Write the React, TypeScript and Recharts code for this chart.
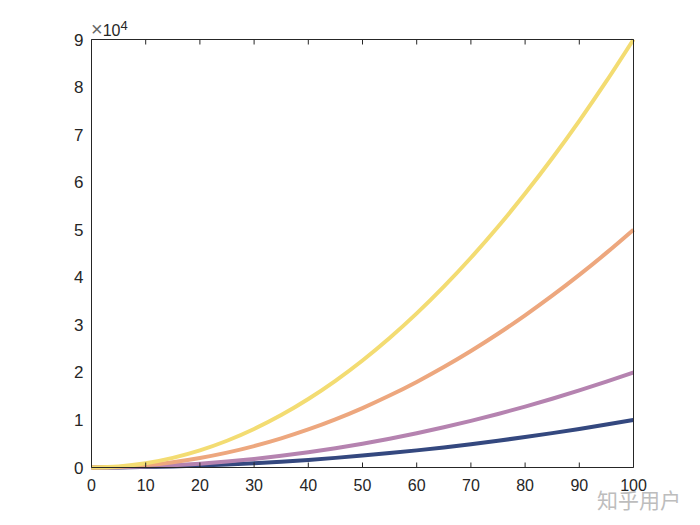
import { LineChart, Line, XAxis, YAxis } from 'recharts';

const xValues = [0, 5, 10, 15, 20, 25, 30, 35, 40, 45, 50, 55, 60, 65, 70, 75, 80, 85, 90, 95, 100];
const navyValues = [0, 25, 100, 225, 400, 625, 900, 1225, 1600, 2025, 2500, 3025, 3600, 4225, 4900, 5625, 6400, 7225, 8100, 9025, 10000];
const purpleValues = [0, 50, 200, 450, 800, 1250, 1800, 2450, 3200, 4050, 5000, 6050, 7200, 8450, 9800, 11250, 12800, 14450, 16200, 18050, 20000];
const orangeValues = [0, 125, 500, 1125, 2000, 3125, 4500, 6125, 8000, 10125, 12500, 15125, 18000, 21125, 24500, 28125, 32000, 36125, 40500, 45125, 50000];
const yellowValues = [0, 225, 900, 2025, 3600, 5625, 8100, 11025, 14400, 18225, 22500, 27225, 32400, 38025, 44100, 50625, 57600, 65025, 72900, 81225, 90000];

const xTicks = [0, 10, 20, 30, 40, 50, 60, 70, 80, 90, 100];
const yTicks = [0, 10000, 20000, 30000, 40000, 50000, 60000, 70000, 80000, 90000];

const data = xValues.map((x, i) => ({
  x,
  navy: navyValues[i],
  purple: purpleValues[i],
  orange: orangeValues[i],
  yellow: yellowValues[i],
}));

const INK = '#262626';
const SANS = '"Liberation Sans", Arial, sans-serif';
const xTickFont = { fontSize: 16, fill: INK, fontFamily: SANS };
const yTickFont = { fontSize: 17, fill: INK, fontFamily: SANS };
const axisLine = { stroke: INK, strokeWidth: 1 };
const noLabel = () => <g />;

export default function App() {
  return (
    <div style={{ position: 'absolute', left: 0, top: 0, width: 700, height: 525, background: '#fff' }}>
      <LineChart
        width={700}
        height={525}
        data={data}
        margin={{ left: 41.5, right: 66.5, top: 39.5, bottom: 27.5 }}
      >
        {/* labelled axes, ticks come from the mirrored ones so they point inward */}
        <XAxis
          xAxisId="bottom"
          dataKey="x"
          type="number"
          domain={[0, 100]}
          ticks={xTicks}
          height={30}
          interval={0}
          tick={xTickFont}
          tickLine={false}
          tickMargin={6}
          axisLine={axisLine}
        />
        <XAxis xAxisId="bottomTicks" dataKey="x" type="number" domain={[0, 100]} ticks={xTicks} interval={0} mirror tick={noLabel} tickLine={axisLine} tickSize={5} axisLine={false} />
        <XAxis xAxisId="top" orientation="top" dataKey="x" type="number" domain={[0, 100]} ticks={xTicks} interval={0} mirror tick={noLabel} tickLine={axisLine} tickSize={5} axisLine={axisLine} />
        <YAxis
          yAxisId="left"
          type="number"
          domain={[0, 90000]}
          ticks={yTicks}
          width={50}
          interval={0}
          tick={yTickFont}
          tickLine={false}
          tickMargin={2}
          tickFormatter={(v: number) => String(v / 10000)}
          axisLine={axisLine}
        />
        <YAxis yAxisId="leftTicks" type="number" domain={[0, 90000]} ticks={yTicks} interval={0} mirror tick={noLabel} tickLine={axisLine} tickSize={5} axisLine={false} />
        <YAxis yAxisId="right" orientation="right" type="number" domain={[0, 90000]} ticks={yTicks} interval={0} mirror tick={noLabel} tickLine={axisLine} tickSize={5} axisLine={axisLine} />
        <Line xAxisId="bottom" yAxisId="left" dataKey="navy" type="monotone" stroke="#34487F" strokeWidth={4} dot={false} isAnimationActive={false} />
        <Line xAxisId="bottom" yAxisId="left" dataKey="purple" type="monotone" stroke="#B583B0" strokeWidth={4} dot={false} isAnimationActive={false} />
        <Line xAxisId="bottom" yAxisId="left" dataKey="orange" type="monotone" stroke="#EDA77E" strokeWidth={4} dot={false} isAnimationActive={false} />
        <Line xAxisId="bottom" yAxisId="left" dataKey="yellow" type="monotone" stroke="#F3DC72" strokeWidth={4} dot={false} isAnimationActive={false} />
      </LineChart>
      <div style={{ position: 'absolute', left: 91, top: 21, color: INK, fontFamily: SANS, fontSize: 16, lineHeight: '20px', whiteSpace: 'nowrap' }}>
        <span style={{ fontSize: 20, fontWeight: 300, color: '#666', lineHeight: 0 }}>×</span>10<sup style={{ fontSize: 13, lineHeight: 0 }}>4</sup>
      </div>
      <div style={{ position: 'absolute', left: 597, top: 486, color: '#bdbdbd', fontFamily: '"Noto Sans CJK SC", sans-serif', fontSize: 21, lineHeight: '26px', whiteSpace: 'nowrap' }}>
        知乎用户
      </div>
    </div>
  );
}
